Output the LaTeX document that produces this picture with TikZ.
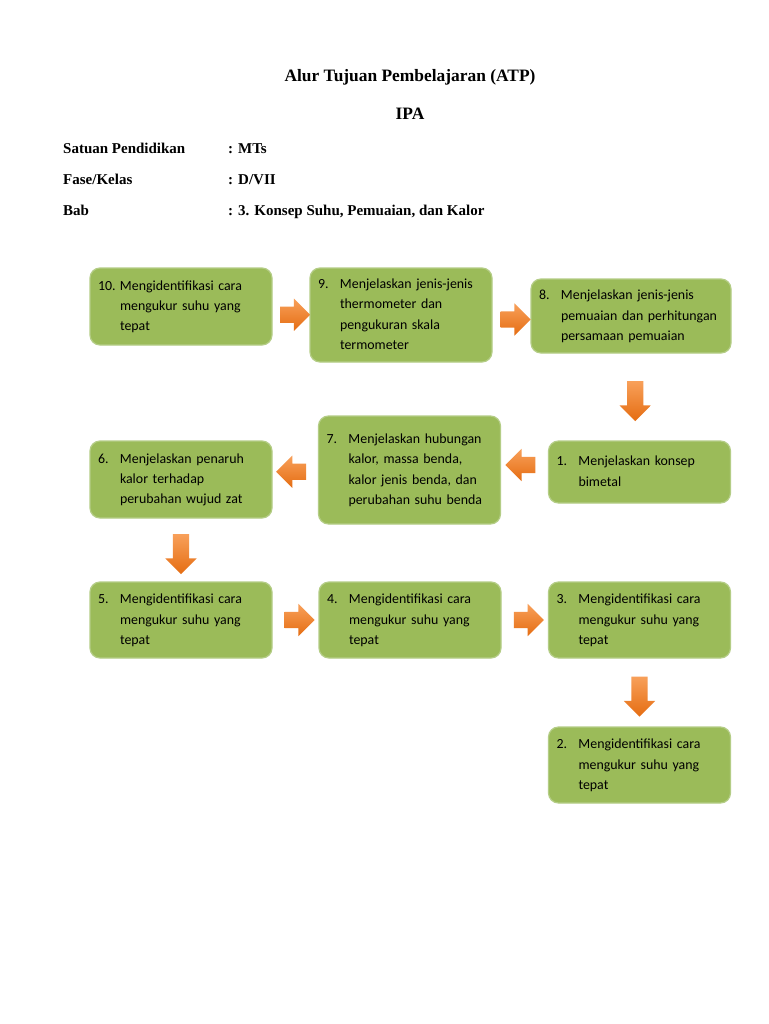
\documentclass[tikz,border=0pt]{standalone}
\usepackage{fontspec}
\setmainfont{Liberation Serif}
\newfontfamily\carlito{Carlito}
\usetikzlibrary{shapes.arrows,calc}
\definecolor{hijau}{HTML}{9BBB59}
\definecolor{hijautepi}{HTML}{B4CD86}
\definecolor{oranye1}{HTML}{F8A05A}
\definecolor{oranye2}{HTML}{E56D12}
\newcommand{\tujuan}[2]{\begin{tabular}{@{}p{22pt}@{}l@{}}#1&#2\end{tabular}}
\begin{document}
\begin{tikzpicture}[x=1pt,y=-1pt,
  kotak/.style={rectangle,rounded corners=10pt,fill=hijau,draw=hijautepi,line width=1.2pt,
    inner xsep=8pt,inner ysep=0pt,text width=166pt,align=left,
    font=\carlito\fontsize{13.9}{20.3}\selectfont},
  panah/.style={single arrow,inner xsep=0pt,inner ysep=8pt,minimum height=30pt,
    single arrow head extend=8pt,top color=oranye1,bottom color=oranye2,draw=none},
  turun/.style={panah,minimum height=40pt,single arrow head extend=7.5pt,rotate=-90},
  kiri/.style={panah,rotate=180},
  judul/.style={font=\bfseries\fontsize{17.4}{20}\selectfont},
  kepala/.style={anchor=base west,inner sep=0pt,font=\bfseries\fontsize{15}{18}\selectfont}]
\useasboundingbox[fill=white](0,0)rectangle(768,1024);
% judul
\node[judul,anchor=base](t1)at(410,82){Alur Tujuan Pembelajaran (ATP)};
\node[judul,anchor=base](t2)at(410,120){IPA};
\node[kepala](k1)at(63,154){Satuan Pendidikan};
\node[kepala](k2)at(63,185){Fase/Kelas};
\node[kepala](k3)at(63,215){Bab};
\node[kepala](v1)at(228,154){: MTs};
\node[kepala](v2)at(228,185){: D/VII};
\node[kepala](v3)at(228,215){: 3. Konsep Suhu, Pemuaian, dan Kalor};
% baris 1
\node[kotak,minimum height=77pt](b10)at(181,306.5){\tujuan{10.}{Mengidentifikasi cara\\&mengukur suhu yang\\&tepat}};
\node[kotak,minimum height=94pt](b9)at(401,315){\tujuan{9.}{Menjelaskan jenis-jenis\\&thermometer dan\\&pengukuran skala\\&termometer}};
\node[kotak,minimum height=74pt,text width=184pt](b8)at(631,316){\tujuan{8.}{Menjelaskan jenis-jenis\\&pemuaian dan perhitungan\\&persamaan pemuaian}};
% baris 2
\node[kotak,minimum height=62pt](b1)at(639.5,472){\tujuan{1.}{Menjelaskan konsep\\&bimetal}};
\node[kotak,minimum height=108pt](b7)at(409.5,470){\tujuan{7.}{Menjelaskan hubungan\\&kalor, massa benda,\\&kalor jenis benda, dan\\&perubahan suhu benda}};
\node[kotak,minimum height=77pt](b6)at(181,479.5){\tujuan{6.}{Menjelaskan penaruh\\&kalor terhadap\\&perubahan wujud zat}};
% baris 3
\node[kotak,minimum height=76pt](b5)at(181,620){\tujuan{5.}{Mengidentifikasi cara\\&mengukur suhu yang\\&tepat}};
\node[kotak,minimum height=76pt](b4)at(410,620){\tujuan{4.}{Mengidentifikasi cara\\&mengukur suhu yang\\&tepat}};
\node[kotak,minimum height=76pt](b3)at(639.5,620){\tujuan{3.}{Mengidentifikasi cara\\&mengukur suhu yang\\&tepat}};
\node[kotak,minimum height=76pt](b2)at(639.5,765){\tujuan{2.}{Mengidentifikasi cara\\&mengukur suhu yang\\&tepat}};
% panah
\node[panah,yshift=-4pt](p1)at($(b10.east)!.5!(b9.west)$){};
\node[panah,yshift=-4pt](p2)at($(b9.east)!.5!(b8.west)$){};
\node[turun](p3)at($(b8.south)!.5!(b1.north)$){};
\node[kiri,yshift=-6pt](p4)at($(b1.west)!.5!(b7.west-|b7.east)$){};
\node[kiri,yshift=-3pt](p5)at($(b7.west)!.5!(b6.east)$){};
\node[turun](p6)at($(b6.south)!.5!(b5.north)$){};
\node[panah](p7)at($(b5.east)!.5!(b4.west)$){};
\node[panah](p8)at($(b4.east)!.5!(b3.west)$){};
\node[turun](p9)at($(b3.south)!.5!(b2.north)$){};
\end{tikzpicture}
\end{document}
